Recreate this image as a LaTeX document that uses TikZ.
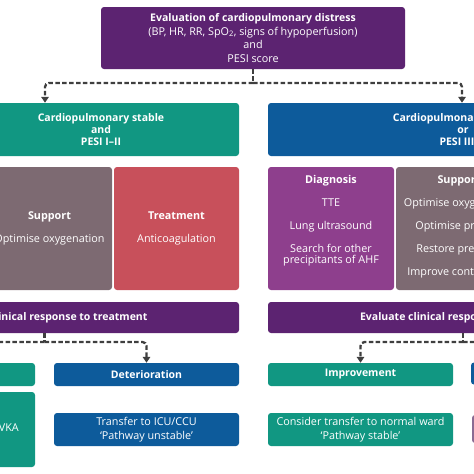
\documentclass[tikz,border=0pt]{standalone}
\usepackage{fontspec}
\setmainfont{Open Sans}
\usetikzlibrary{arrows.meta}
\definecolor{darkpurple}{HTML}{5C2371}
\definecolor{teal}{HTML}{119782}
\definecolor{navy}{HTML}{0D5B9B}
\definecolor{mauve}{HTML}{7D6A72}
\definecolor{rosered}{HTML}{C8505B}
\definecolor{diagpurple}{HTML}{8E3F8D}
\definecolor{lilac}{HTML}{8A6B93}
\definecolor{connector}{HTML}{3F3F3F}
\tikzset{
  box/.style={rounded corners=3pt, draw=none, text=white, align=center, inner sep=0pt,
    font=\fontsize{10.8}{12.3}\selectfont},
  boldbox/.style={box, font=\bfseries\fontsize{10.5}{12.3}\selectfont},
  conn/.style={draw=connector, line width=2.3pt, dash pattern=on 4.5pt off 2.4pt},
  arr/.style={-{Triangle[width=7.5pt,length=6pt]}, rounded corners=4pt},
  txt/.style={text=white, align=center, inner sep=0pt, font=\fontsize{10.8}{11.5}\selectfont}
}
\begin{document}
\begin{tikzpicture}[x=1pt,y=-1pt]
\useasboundingbox (0,0) rectangle (474,474);
\clip (0,0) rectangle (474,474);
% top
\node[box, fill=darkpurple, minimum width=304pt, minimum height=62pt,
  font=\fontsize{10.8}{13.5}\selectfont] (eval) at (253,38)
  {{\bfseries\fontsize{10.5}{13.5}\selectfont Evaluation of cardiopulmonary distress}\\(BP, HR, RR, SpO\textsubscript{2}, signs of hypoperfusion)\\and\\PESI score};
% column heads
\node[boldbox, fill=teal, minimum width=276pt, minimum height=53pt] (stable) at (101,129.5)
  {Cardiopulmonary stable\\and\\PESI I--II};
\node[boldbox, fill=navy, minimum width=390pt, minimum height=53pt] (unstable) at (463,129.5)
  {Cardiopulmonary unstable\\or\\PESI III--V};
% row 2
\node[box, fill=mauve, minimum width=125pt, minimum height=123pt] (supL) at (49.5,228.5) {};
\node[txt] (supLt) at (49.5,228.5) {\textbf{Support}\\[11.5pt]Optimise oxygenation};
\node[box, fill=rosered, minimum width=125pt, minimum height=123pt] (treat) at (176.5,228.5) {};
\node[txt] (treatt) at (176.5,228.5) {\textbf{Treatment}\\[11.5pt]Anticoagulation};
\node[box, fill=diagpurple, minimum width=126pt, minimum height=123pt] (diag) at (331,228.5) {};
\node[txt, anchor=north] (diagt) at (331,175) {\textbf{Diagnosis}\\[11.5pt]TTE\\[11.5pt]Lung ultrasound\\[11.5pt]Search for other\\precipitants of AHF};
\node[box, fill=mauve, minimum width=126pt, minimum height=123pt] (supR) at (459,228.5) {};
\node[txt, anchor=north] (supRt) at (459,175) {\textbf{Support}\\[11.5pt]Optimise oxygenation\\[11.5pt]Optimise preload\\[11.5pt]Restore pressure\\[11.5pt]Improve contractility};
% bars
\node[boldbox, fill=darkpurple, minimum width=389pt, minimum height=31pt] (lbar) at (44.5,317.5)
  {Evaluate clinical response to treatment};
\node[boldbox, fill=darkpurple, minimum width=390pt, minimum height=31pt] (rbar) at (463,317.5)
  {Evaluate clinical response to treatment};
% bottom left
\node[box, fill=teal, minimum width=185pt, minimum height=23pt] (impL) at (-57.5,374.5) {};
\node[boldbox, fill=navy, minimum width=185pt, minimum height=23pt] (detL) at (146.5,374.5) {Deterioration};
\node[box, fill=teal, minimum width=185pt, minimum height=75pt] (vka) at (-57.5,429.5) {};
\node[txt, anchor=east] (vkat) at (19,428) {DOAC/VKA};
\node[box, fill=navy, minimum width=185pt, minimum height=33pt, font=\fontsize{10.8}{14}\selectfont] (icu) at (146.5,429.5)
  {Transfer to ICU/CCU\\`Pathway unstable'};
% bottom right
\node[boldbox, fill=teal, minimum width=185pt, minimum height=23pt] (impR) at (360.5,374.5) {Improvement};
\node[box, fill=navy, minimum width=186pt, minimum height=22pt] (detR) at (564,373.5) {};
\node[box, fill=teal, minimum width=185pt, minimum height=33pt, font=\fontsize{10.8}{14}\selectfont] (ward) at (360.5,429.5)
  {Consider transfer to normal ward\\`Pathway stable'};
\node[box, fill=lilac, minimum width=186pt, minimum height=28pt] (icuR) at (565,429) {};
% connectors
\coordinate (colL) at (45,0);
\coordinate (colR) at (462,0);
\coordinate (split) at (253,83);
\draw[conn] (eval.south) -- (split);
\draw[conn,arr] (split) -| (stable.north -| colL);
\draw[conn,arr] (split) -| (unstable.north -| colR);
\coordinate (splitL) at (44.5,342);
\draw[conn] (lbar.south) -- (splitL);
\draw[conn,arr] (splitL) -| (detL.north);
\draw[conn,arr] (splitL) -| (impL.north);
\coordinate (splitR) at (463,342);
\draw[conn] (rbar.south) -- (splitR);
\draw[conn,arr] (splitR) -| (impR.north);
\draw[conn,arr] (splitR) -| (detR.north);
\end{tikzpicture}
\end{document}
